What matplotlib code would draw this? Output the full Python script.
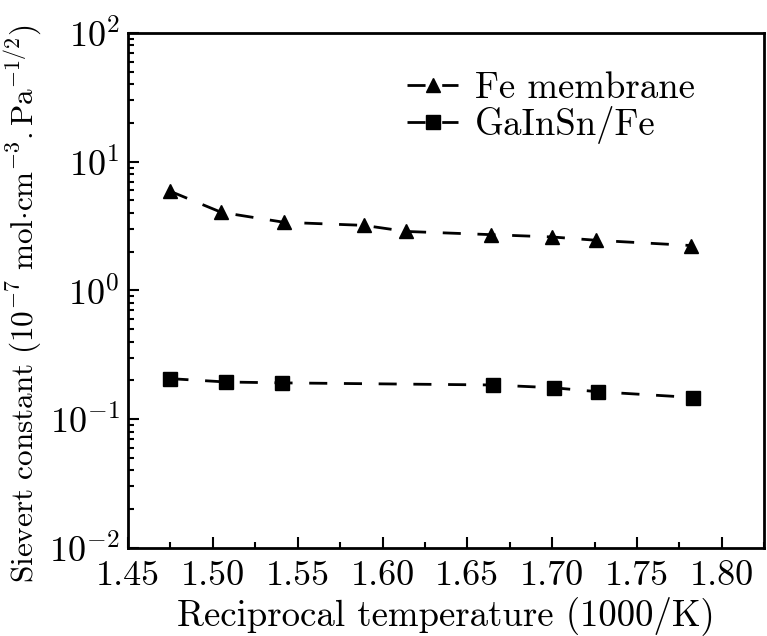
import matplotlib
matplotlib.use("Agg")
import matplotlib.pyplot as plt
from matplotlib.ticker import LogLocator, MultipleLocator, FormatStrFormatter

# Data
fe_x = [1.475, 1.505, 1.542, 1.589, 1.614, 1.664, 1.700, 1.726, 1.782]
fe_y = [5.88, 4.04, 3.38, 3.20, 2.87, 2.71, 2.60, 2.45, 2.23]
ga_x = [1.475, 1.508, 1.541, 1.665, 1.701, 1.727, 1.783]
ga_y = [0.206, 0.194, 0.191, 0.184, 0.175, 0.163, 0.147]
labels = ["Fe membrane", "GaInSn/Fe"]
xticks = [1.45, 1.50, 1.55, 1.60, 1.65, 1.70, 1.75, 1.80]

plt.rcParams["font.family"] = "serif"
plt.rcParams["font.serif"] = ["cmr10"]
plt.rcParams["mathtext.fontset"] = "cm"
plt.rcParams["axes.unicode_minus"] = False
plt.rcParams["axes.formatter.use_mathtext"] = True

fig = plt.figure(figsize=(7.67, 6.36), dpi=100)
ax = fig.add_axes([0.1669, 0.1388, 0.9965 - 0.1669, 0.9481 - 0.1388])

l1, = ax.plot(fe_x, fe_y, color="black", lw=2.0, ls=(0, (6.5, 6)),
              marker="^", ms=10.5, label=labels[0])
l2, = ax.plot(ga_x, ga_y, color="black", lw=2.0, ls=(0, (6.5, 6)),
              marker="s", ms=9.5, label=labels[1])

ax.set_yscale("log")
ax.set_ylim(1e-2, 1e2)
ax.set_xlim(1.45, 1.825)
ax.set_xticks(xticks)
ax.xaxis.set_major_formatter(FormatStrFormatter("%.2f"))
ax.xaxis.set_minor_locator(MultipleLocator(0.025))
ax.yaxis.set_major_locator(LogLocator(base=10, numticks=10))
ax.yaxis.set_minor_locator(LogLocator(base=10, subs=range(2, 10), numticks=20))

for s in ax.spines.values():
    s.set_linewidth(2.0)
ax.tick_params(which="both", direction="in", top=False, right=False, width=1.5)
ax.tick_params(which="major", length=8, labelsize=26)
ax.tick_params(axis="x", which="major", pad=9)
ax.tick_params(axis="y", which="major", pad=6)
ax.tick_params(which="minor", length=4)

ax.set_xlabel("Reciprocal temperature (1000/K)", fontsize=26.5, labelpad=3)
ax.set_ylabel(r"$\mathrm{Sievert\ constant\ (10^{-7}\ mol{\cdot}cm^{-3}.Pa^{-1/2})}$",
              fontsize=22.5)
ax.yaxis.set_label_coords(-0.133, 0.475)

leg = ax.legend(loc="upper right", frameon=False, fontsize=26.5,
                handlelength=1.4, handletextpad=0.45, labelspacing=0.05,
                borderpad=0.4, bbox_to_anchor=(0.943, 0.99))

fig.savefig("out.png", dpi=100)
